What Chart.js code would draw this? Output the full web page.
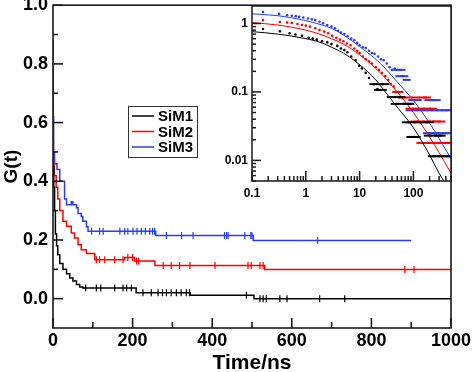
<!DOCTYPE html>
<html>
<head>
<meta charset="utf-8">
<script src="https://cdn.jsdelivr.net/npm/chart.js@4/dist/chart.umd.min.js"></script>
<style>
  html, body { margin: 0; padding: 0; background: #fff; }
  #wrap { position: relative; width: 474px; height: 372px; }
  #mainChart { position: absolute; left: 0; top: 0; }
  #insetChart { position: absolute; left: 215px; top: 0; }
</style>
</head>
<body>
<div id="wrap">
  <canvas id="mainChart" width="474" height="372"></canvas>
  <canvas id="insetChart" width="259" height="200"></canvas>
</div>
<script>
// ---- main plot: G(t) against time (ns), step curves ----
const seriesNames = ['SiM1', 'SiM2', 'SiM3'];
const seriesColors = ['#000000', '#ff0000', '#2b3cf0'];

const sim1T = [0, 2, 4, 6, 9, 12, 17, 25, 34, 42, 50, 59, 67, 75, 209, 345, 505, 1000];
const sim1G = [0.45, 0.38, 0.30, 0.22, 0.18, 0.15, 0.12, 0.10, 0.085, 0.07, 0.06, 0.048, 0.04, 0.036, 0.02, 0.012, 0.0, 0.0];

const sim2T = [0, 1, 3, 8, 12, 17, 25, 34, 46, 54, 63, 71, 84, 105, 180, 205, 256, 532, 1000];
const sim2G = [0.54, 0.46, 0.42, 0.38, 0.34, 0.30, 0.264, 0.247, 0.224, 0.207, 0.184, 0.167, 0.154, 0.133, 0.14, 0.128, 0.113, 0.099, 0.099];

const sim3T = [0, 0.5, 1.5, 4, 10, 17, 29, 34, 46, 50, 59, 63, 71, 75, 84, 88, 258, 503, 900];
const sim3G = [0.88, 0.62, 0.50, 0.46, 0.44, 0.40, 0.34, 0.32, 0.33, 0.32, 0.31, 0.29, 0.28, 0.264, 0.245, 0.23, 0.215, 0.198, 0.198];

// small vertical marks sitting on the curves
const sim1Marks = [[82,0.036],[109,0.036],[120,0.036],[155,0.036],[176,0.036],[185,0.036],[197,0.036],[226,0.02],[247,0.02],[264,0.02],[275,0.02],[285,0.02],[297,0.02],[310,0.02],[322,0.02],[335,0.02],[343,0.02],[486,0.012],[520,0],[528,0],[536,0],[570,0],[588,0],[670,0],[733,0]];
const sim2Marks = [[109,0.133],[117,0.133],[130,0.133],[155,0.133],[176,0.133],[188,0.14],[200,0.14],[210,0.128],[215,0.128],[277,0.113],[297,0.113],[318,0.113],[344,0.113],[407,0.113],[490,0.113],[498,0.113],[520,0.113],[528,0.113],[884,0.099],[907,0.099]];
const sim3Marks = [[97,0.23],[117,0.23],[126,0.23],[168,0.23],[180,0.23],[188,0.23],[201,0.23],[211,0.23],[222,0.23],[232,0.23],[243,0.23],[250,0.23],[255,0.23],[285,0.215],[323,0.215],[352,0.215],[431,0.215],[436,0.215],[440,0.215],[482,0.215],[497,0.215],[500,0.215],[665,0.198]];

const xTicks = [0, 200, 400, 600, 800, 1000];
const xMinor = [100, 300, 500, 700, 900];
const yTicks = [0, 0.2, 0.4, 0.6, 0.8, 1.0];
const yMinor = [0.1, 0.3, 0.5, 0.7, 0.9];

// ---- inset: log-log, dots + fitted curves ----
const insetXTicks = [0.1, 1, 10, 100];
const insetXLabels = ['0.1', '1', '10', '100'];
const insetYTicks = [0.01, 0.1, 1];
const insetYLabels = ['0.01', '0.1', '1'];

const sim1Dots = [[0.16,0.83],[0.33,0.77],[0.5,0.72],[0.64,0.69],[0.85,0.66],[1.13,0.62],[1.35,0.6],[1.6,0.58],[2.0,0.55],[2.5,0.53],[3.0,0.5],[3.85,0.47],[4.5,0.43],[5.2,0.41],[5.9,0.38],[7.0,0.33],[8.4,0.29],[9.8,0.24],[11,0.22],[13,0.19],[15,0.16],[18.5,0.13],[21.5,0.11]];
const sim1Dashes = [[18,0.13],[24,0.13],[30,0.13],[22,0.107],[27,0.107],[38,0.084],[48,0.084],[60,0.084],[45,0.067],[58,0.067],[75,0.067],[88,0.067],[72,0.036],[92,0.036],[120,0.036],[155,0.036],[200,0.036],[88,0.022],[100,0.022],[115,0.022],[185,0.023],[230,0.023],[290,0.023],[335,0.023],[220,0.0115],[270,0.0115],[330,0.0115],[400,0.0115],[470,0.0115]];
const sim1Fit = [[0.1,0.76],[0.3,0.7],[1,0.6],[2,0.52],[3,0.45],[5,0.37],[10,0.25],[20,0.15],[30,0.1],[50,0.06],[100,0.03],[200,0.012],[300,0.0065],[400,0.0045]];

const sim2Dots = [[0.16,1.12],[0.33,1.05],[0.45,1.03],[0.55,1.02],[0.7,0.98],[0.85,0.95],[1.0,0.93],[1.2,0.9],[1.5,0.85],[1.8,0.8],[2.2,0.76],[2.6,0.72],[3.1,0.66],[3.7,0.62],[4.3,0.58],[5.0,0.55],[5.8,0.51],[6.8,0.48],[8,0.43],[9,0.4],[10,0.37],[11.5,0.33],[13,0.3],[15,0.28],[17,0.26],[20,0.23],[23,0.21],[26,0.19],[30,0.17],[34,0.15],[38,0.13],[43,0.12]];
const sim2Dashes = [[48,0.1],[55,0.1],[62,0.083],[80,0.083],[110,0.083],[150,0.083],[180,0.083],[85,0.057],[110,0.057],[140,0.057],[180,0.057],[230,0.057],[105,0.037],[135,0.037],[175,0.037],[220,0.037],[270,0.037],[330,0.037],[135,0.018],[170,0.018],[215,0.018],[270,0.018],[340,0.018],[420,0.018],[480,0.018]];
const sim2Fit = [[0.1,1.03],[0.3,0.95],[1,0.8],[2,0.68],[3,0.6],[5,0.5],[10,0.35],[20,0.22],[30,0.16],[50,0.1],[100,0.05],[200,0.022],[300,0.013],[500,0.0065]];

const sim3Dots = [[0.16,1.47],[0.32,1.38],[0.45,1.32],[0.55,1.3],[0.65,1.28],[0.75,1.25],[0.9,1.22],[1.1,1.18],[1.3,1.15],[1.5,1.12],[1.8,1.06],[2.1,1.01],[2.5,0.95],[3.0,0.9],[3.5,0.85],[4.0,0.78],[4.5,0.74],[5.2,0.7],[6.0,0.65],[7.0,0.6],[8.0,0.57],[9.0,0.52],[10,0.48],[11.5,0.45],[13,0.44],[15,0.4],[17,0.37],[19,0.36],[22,0.33],[25,0.3],[28,0.29],[32,0.26],[36,0.23],[40,0.21],[45,0.22]];
const sim3Dashes = [[50,0.21],[60,0.21],[55,0.17],[68,0.17],[75,0.15],[95,0.076],[120,0.076],[190,0.076],[230,0.076],[270,0.076],[85,0.054],[105,0.054],[130,0.054],[160,0.054],[200,0.054],[250,0.054],[310,0.054],[380,0.054],[460,0.054],[180,0.025],[220,0.025],[270,0.025],[330,0.025],[400,0.025],[470,0.025]];
const sim3Fit = [[0.1,1.38],[0.3,1.3],[1,1.1],[2,0.95],[3,0.85],[5,0.68],[10,0.46],[20,0.3],[30,0.22],[50,0.14],[100,0.075],[200,0.035],[300,0.021],[500,0.0105]];

const FONT = "'Liberation Sans', Arial, sans-serif";

function xy(ts, gs) { return ts.map((t, i) => ({x: t, y: gs[i]})); }
function pairs(list) { return list.map(p => ({x: p[0], y: p[1]})); }

// frame around the plot area plus inward tick marks
const frameTicks = {
  id: 'frameTicks',
  beforeDraw(chart) {
    const a = chart.chartArea, ctx = chart.ctx;
    ctx.save();
    ctx.fillStyle = '#fff';
    ctx.fillRect(a.left, a.top, a.right - a.left, a.bottom - a.top);
    ctx.restore();
  },
  afterDraw(chart, args, opts) {
    const a = chart.chartArea, ctx = chart.ctx;
    ctx.save();
    ctx.strokeStyle = '#1a1a1a';
    ctx.lineWidth = opts.width || 1.5;
    ctx.strokeRect(a.left, a.top, a.right - a.left, a.bottom - a.top);
    (opts.marks || []).forEach(m => {
      const scale = chart.scales[m.axis];
      m.values.forEach(v => {
        const p = scale.getPixelForValue(v);
        ctx.beginPath();
        if (scale.isHorizontal()) {
          ctx.moveTo(p, a.bottom); ctx.lineTo(p, a.bottom - m.len);
        } else {
          ctx.moveTo(a.left, p); ctx.lineTo(a.left + m.len, p);
        }
        ctx.stroke();
      });
    });
    ctx.restore();
  }
};

// boxed legend inside the main plot
const boxLegend = {
  id: 'boxLegend',
  afterDraw(chart) {
    const ctx = chart.ctx;
    ctx.save();
    ctx.strokeStyle = '#333';
    ctx.lineWidth = 1;
    ctx.strokeRect(128.5, 106.5, 69, 51);
    ctx.font = 'bold 15px ' + FONT;
    ctx.textBaseline = 'middle';
    seriesNames.forEach((name, i) => {
      const y = 116 + i * 15.5;
      ctx.strokeStyle = seriesColors[i];
      ctx.lineWidth = 1.5;
      ctx.beginPath(); ctx.moveTo(132, y); ctx.lineTo(154, y); ctx.stroke();
      ctx.fillStyle = '#000';
      ctx.fillText(name, 158, y + 1);
    });
    ctx.restore();
  }
};

function fixBox(w, h) {
  return function (scale) {
    if (w !== null) scale.width = w;
    if (h !== null) scale.height = h;
    scale.paddingTop = 0; scale.paddingBottom = 0;
    scale.paddingLeft = 0; scale.paddingRight = 0;
  };
}

// ---- main chart ----
const stepSets = [[sim1T, sim1G], [sim2T, sim2G], [sim3T, sim3G]].map((s, i) => ({
  label: seriesNames[i],
  data: xy(s[0], s[1]),
  showLine: true,
  stepped: true,
  borderColor: seriesColors[i],
  borderWidth: 1.5,
  pointRadius: 0,
  fill: false
}));
const markSets = [sim1Marks, sim2Marks, sim3Marks].map((m, i) => ({
  label: seriesNames[i] + ' marks',
  data: pairs(m),
  showLine: false,
  pointStyle: 'line',
  rotation: 90,
  pointRadius: 3.5,
  borderWidth: 1.2,
  borderColor: seriesColors[i]
}));

new Chart(document.getElementById('mainChart'), {
  type: 'scatter',
  data: { datasets: stepSets.concat(markSets) },
  options: {
    responsive: false,
    animation: false,
    layout: { padding: { top: 5, right: 23, left: 0, bottom: 0 } },
    plugins: {
      legend: { display: false },
      tooltip: { enabled: false },
      frameTicks: {
        width: 1.6,
        marks: [
          { axis: 'x', values: xTicks, len: 10 },
          { axis: 'x', values: xMinor, len: 6 },
          { axis: 'y', values: yTicks, len: 10 },
          { axis: 'y', values: yMinor, len: 5 }
        ]
      }
    },
    scales: {
      x: {
        type: 'linear',
        min: 0, max: 1000,
        grid: { display: false, drawTicks: false },
        border: { display: false },
        afterBuildTicks: s => { s.ticks = xTicks.map(v => ({ value: v })); },
        afterFit: fixBox(null, 44),
        ticks: {
          padding: 2,
          color: '#000',
          font: { family: FONT, size: 18, weight: 'bold' },
          callback: v => String(v)
        },
        title: {
          display: true,
          text: 'Time/ns',
          color: '#000',
          padding: { top: 0, bottom: -4 },
          font: { family: FONT, size: 21, weight: 'bold' }
        }
      },
      y: {
        type: 'linear',
        min: -0.1, max: 1.0,
        grid: { display: false, drawTicks: false },
        border: { display: false },
        afterBuildTicks: s => { s.ticks = yTicks.map(v => ({ value: v })); },
        afterFit: fixBox(53, null),
        ticks: {
          padding: 5,
          color: '#000',
          font: { family: FONT, size: 18, weight: 'bold' },
          callback: v => v.toFixed(1)
        },
        title: {
          display: true,
          text: 'G(t)',
          color: '#000',
          padding: { top: 0, bottom: 0 },
          font: { family: FONT, size: 19, weight: 'bold' }
        }
      }
    }
  },
  plugins: [frameTicks, boxLegend]
});

// ---- inset chart ----
const insetMinorX = [];
const insetMinorY = [];
[0.1, 1, 10, 100].forEach(d => { for (let k = 2; k <= 9; k++) if (d * k <= 500) insetMinorX.push(d * k); });
[0.001, 0.01, 0.1, 1].forEach(d => { for (let k = 2; k <= 9; k++) if (d * k >= 0.005 && d * k <= 1.8) insetMinorY.push(d * k); });

const insetSets = [];
[[sim1Fit, sim1Dots, sim1Dashes], [sim2Fit, sim2Dots, sim2Dashes], [sim3Fit, sim3Dots, sim3Dashes]].forEach((s, i) => {
  insetSets.push({
    label: seriesNames[i] + ' fit',
    data: pairs(s[0]),
    showLine: true,
    cubicInterpolationMode: 'monotone',
    borderColor: seriesColors[i],
    borderWidth: 1,
    pointRadius: 0
  });
  insetSets.push({
    label: seriesNames[i] + ' dots',
    data: pairs(s[1]),
    showLine: false,
    pointRadius: 1.3,
    borderWidth: 0,
    backgroundColor: seriesColors[i]
  });
  insetSets.push({
    label: seriesNames[i] + ' tail',
    data: pairs(s[2]),
    showLine: false,
    pointStyle: 'line',
    pointRadius: 4,
    borderWidth: 2,
    borderColor: seriesColors[i]
  });
});

new Chart(document.getElementById('insetChart'), {
  type: 'scatter',
  data: { datasets: insetSets },
  options: {
    responsive: false,
    animation: false,
    layout: { padding: { top: 5, right: 23, left: 0, bottom: 0 } },
    plugins: {
      legend: { display: false },
      tooltip: { enabled: false },
      frameTicks: {
        width: 1.5,
        marks: [
          { axis: 'x', values: insetXTicks, len: 10 },
          { axis: 'x', values: insetMinorX, len: 5 },
          { axis: 'y', values: insetYTicks, len: 9 },
          { axis: 'y', values: insetMinorY, len: 4 }
        ]
      }
    },
    scales: {
      x: {
        type: 'logarithmic',
        min: 0.1, max: 500,
        grid: { display: false, drawTicks: false },
        border: { display: false },
        afterBuildTicks: s => { s.ticks = insetXTicks.map(v => ({ value: v })); },
        afterFit: fixBox(null, 19),
        ticks: {
          padding: 5,
          color: '#000',
          font: { family: FONT, size: 12, weight: 'bold' },
          callback: (v, i) => insetXLabels[i]
        }
      },
      y: {
        type: 'logarithmic',
        min: 0.005, max: 1.8,
        grid: { display: false, drawTicks: false },
        border: { display: false },
        afterBuildTicks: s => { s.ticks = insetYTicks.map(v => ({ value: v })); },
        afterFit: fixBox(37, null),
        ticks: {
          padding: 4,
          color: '#000',
          font: { family: FONT, size: 12, weight: 'bold' },
          callback: (v, i) => insetYLabels[i]
        }
      }
    }
  },
  plugins: [frameTicks]
});
</script>
</body>
</html>
